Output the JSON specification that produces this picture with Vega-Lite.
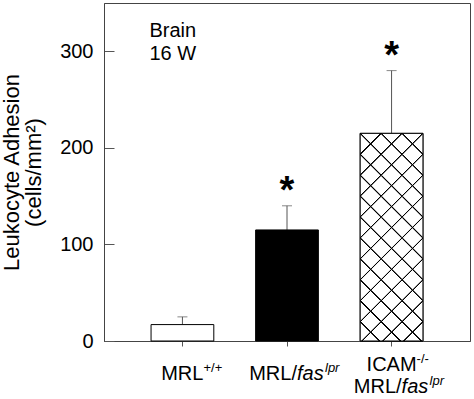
{
  "$schema": "https://vega.github.io/schema/vega-lite/v6.json",
  "width": 366,
  "height": 338,
  "autosize": {"type": "none"},
  "padding": {"left": 104, "right": 4, "top": 3, "bottom": 58},
  "background": "#ffffff",
  "config": {
    "font": "Liberation Sans",
    "view": {"stroke": "#444444", "strokeWidth": 1},
    "axis": {"grid": false, "domainColor": "#444444", "tickColor": "#555555", "labelColor": "#000000", "titleColor": "#000000"}
  },
  "data": {
    "values": [
      {"group": "MRL+/+", "mean": 17, "upper": 25, "sig": ""},
      {"group": "MRL/fas lpr", "mean": 115, "upper": 140, "sig": "*"},
      {"group": "ICAM-/- MRL/fas lpr", "mean": 215, "upper": 280, "sig": "*"}
    ]
  },
  "encoding": {
    "x": {
      "field": "group",
      "type": "nominal",
      "sort": null,
      "scale": {"domain": ["MRL+/+", "MRL/fas lpr", "ICAM-/- MRL/fas lpr"], "paddingInner": 0.4, "paddingOuter": 0.45},
      "axis": {"labels": false, "title": null, "tickSize": 5, "domainColor": "#444444"}
    }
  },
  "layer": [
    {
      "mark": {"type": "rule", "color": "#555555", "strokeWidth": 1},
      "encoding": {
        "y": {
          "field": "mean",
          "type": "quantitative",
          "scale": {"domain": [0, 350], "nice": false, "zero": true},
          "axis": {
            "values": [0, 100, 200, 300],
            "tickSize": -10,
            "labelPadding": 21,
            "labelFontSize": 20,
            "labelFont": "Liberation Sans",
            "title": ["Leukocyte Adhesion", "(cells/mm²)"],
            "titleFontSize": 22,
            "titleFontWeight": "normal",
            "titleFont": "Liberation Sans",
            "titleLineHeight": 22,
            "titlePadding": 14
          }
        },
        "y2": {"field": "upper"}
      }
    },
    {
      "mark": {"type": "tick", "size": 10, "thickness": 1, "color": "#555555"},
      "encoding": {"y": {"field": "upper", "type": "quantitative"}}
    },
    {
      "mark": {"type": "bar", "stroke": "#000000", "strokeWidth": 1},
      "encoding": {
        "y": {"field": "mean", "type": "quantitative"},
        "fill": {
          "field": "group",
          "type": "nominal",
          "scale": {"domain": ["MRL+/+", "MRL/fas lpr", "ICAM-/- MRL/fas lpr"], "range": ["#ffffff", "#000000", "#ffffff"]},
          "legend": null
        }
      }
    },
    {
      "transform": [{"filter": "datum.group === 'ICAM-/- MRL/fas lpr'"}],
      "mark": {
        "type": "bar",
        "fill": {
          "gradient": "linear", "x1": 0, "y1": 1, "x2": 0.3606, "y2": -0.1932,
          "stops": [
            {"offset": 0, "color": "#ffffff"},
            {"offset": 0.06721, "color": "#ffffff"}, {"offset": 0.06991, "color": "#000000"}, {"offset": 0.07351, "color": "#000000"}, {"offset": 0.07621, "color": "#ffffff"},
            {"offset": 0.14457, "color": "#ffffff"}, {"offset": 0.14727, "color": "#000000"}, {"offset": 0.15087, "color": "#000000"}, {"offset": 0.15357, "color": "#ffffff"},
            {"offset": 0.22194, "color": "#ffffff"}, {"offset": 0.22464, "color": "#000000"}, {"offset": 0.22824, "color": "#000000"}, {"offset": 0.23094, "color": "#ffffff"},
            {"offset": 0.29930, "color": "#ffffff"}, {"offset": 0.30200, "color": "#000000"}, {"offset": 0.30560, "color": "#000000"}, {"offset": 0.30830, "color": "#ffffff"},
            {"offset": 0.37666, "color": "#ffffff"}, {"offset": 0.37936, "color": "#000000"}, {"offset": 0.38296, "color": "#000000"}, {"offset": 0.38566, "color": "#ffffff"},
            {"offset": 0.45402, "color": "#ffffff"}, {"offset": 0.45672, "color": "#000000"}, {"offset": 0.46032, "color": "#000000"}, {"offset": 0.46302, "color": "#ffffff"},
            {"offset": 0.53138, "color": "#ffffff"}, {"offset": 0.53408, "color": "#000000"}, {"offset": 0.53768, "color": "#000000"}, {"offset": 0.54038, "color": "#ffffff"},
            {"offset": 0.60874, "color": "#ffffff"}, {"offset": 0.61144, "color": "#000000"}, {"offset": 0.61504, "color": "#000000"}, {"offset": 0.61774, "color": "#ffffff"},
            {"offset": 0.68611, "color": "#ffffff"}, {"offset": 0.68881, "color": "#000000"}, {"offset": 0.69241, "color": "#000000"}, {"offset": 0.69511, "color": "#ffffff"},
            {"offset": 0.76347, "color": "#ffffff"}, {"offset": 0.76617, "color": "#000000"}, {"offset": 0.76977, "color": "#000000"}, {"offset": 0.77247, "color": "#ffffff"},
            {"offset": 0.84083, "color": "#ffffff"}, {"offset": 0.84353, "color": "#000000"}, {"offset": 0.84713, "color": "#000000"}, {"offset": 0.84983, "color": "#ffffff"},
            {"offset": 0.91819, "color": "#ffffff"}, {"offset": 0.92089, "color": "#000000"}, {"offset": 0.92449, "color": "#000000"}, {"offset": 0.92719, "color": "#ffffff"},
            {"offset": 1, "color": "#ffffff"}
          ]
        }
      },
      "encoding": {"y": {"field": "mean", "type": "quantitative"}}
    },
    {
      "transform": [{"filter": "datum.group === 'ICAM-/- MRL/fas lpr'"}],
      "mark": {
        "type": "bar",
        "stroke": "#000000",
        "strokeWidth": 1,
        "fill": {
          "gradient": "linear", "x1": 0, "y1": 0, "x2": 0.3606, "y2": 1.1932,
          "stops": [
            {"offset": 0, "color": "rgba(255,255,255,0)"},
            {"offset": 0.07286, "color": "rgba(255,255,255,0)"}, {"offset": 0.07556, "color": "#000000"}, {"offset": 0.07916, "color": "#000000"}, {"offset": 0.08186, "color": "rgba(255,255,255,0)"},
            {"offset": 0.15022, "color": "rgba(255,255,255,0)"}, {"offset": 0.15292, "color": "#000000"}, {"offset": 0.15652, "color": "#000000"}, {"offset": 0.15922, "color": "rgba(255,255,255,0)"},
            {"offset": 0.22759, "color": "rgba(255,255,255,0)"}, {"offset": 0.23029, "color": "#000000"}, {"offset": 0.23389, "color": "#000000"}, {"offset": 0.23659, "color": "rgba(255,255,255,0)"},
            {"offset": 0.30495, "color": "rgba(255,255,255,0)"}, {"offset": 0.30765, "color": "#000000"}, {"offset": 0.31125, "color": "#000000"}, {"offset": 0.31395, "color": "rgba(255,255,255,0)"},
            {"offset": 0.38231, "color": "rgba(255,255,255,0)"}, {"offset": 0.38501, "color": "#000000"}, {"offset": 0.38861, "color": "#000000"}, {"offset": 0.39131, "color": "rgba(255,255,255,0)"},
            {"offset": 0.45967, "color": "rgba(255,255,255,0)"}, {"offset": 0.46237, "color": "#000000"}, {"offset": 0.46597, "color": "#000000"}, {"offset": 0.46867, "color": "rgba(255,255,255,0)"},
            {"offset": 0.53703, "color": "rgba(255,255,255,0)"}, {"offset": 0.53973, "color": "#000000"}, {"offset": 0.54333, "color": "#000000"}, {"offset": 0.54603, "color": "rgba(255,255,255,0)"},
            {"offset": 0.61439, "color": "rgba(255,255,255,0)"}, {"offset": 0.61709, "color": "#000000"}, {"offset": 0.62069, "color": "#000000"}, {"offset": 0.62339, "color": "rgba(255,255,255,0)"},
            {"offset": 0.69176, "color": "rgba(255,255,255,0)"}, {"offset": 0.69446, "color": "#000000"}, {"offset": 0.69806, "color": "#000000"}, {"offset": 0.70076, "color": "rgba(255,255,255,0)"},
            {"offset": 0.76912, "color": "rgba(255,255,255,0)"}, {"offset": 0.77182, "color": "#000000"}, {"offset": 0.77542, "color": "#000000"}, {"offset": 0.77812, "color": "rgba(255,255,255,0)"},
            {"offset": 0.84648, "color": "rgba(255,255,255,0)"}, {"offset": 0.84918, "color": "#000000"}, {"offset": 0.85278, "color": "#000000"}, {"offset": 0.85548, "color": "rgba(255,255,255,0)"},
            {"offset": 0.92384, "color": "rgba(255,255,255,0)"}, {"offset": 0.92654, "color": "#000000"}, {"offset": 0.93014, "color": "#000000"}, {"offset": 0.93284, "color": "rgba(255,255,255,0)"},
            {"offset": 1, "color": "rgba(255,255,255,0)"}
          ]
        }
      },
      "encoding": {"y": {"field": "mean", "type": "quantitative"}}
    },
    {
      "mark": {"type": "text", "fontSize": 38, "fontWeight": "bold", "color": "#000000", "baseline": "alphabetic", "align": "center", "dy": -3},
      "encoding": {
        "y": {"field": "upper", "type": "quantitative"},
        "text": {"field": "sig"}
      }
    },
    {
      "transform": [{"filter": "datum.group === 'MRL+/+'"}],
      "mark": {"type": "text", "text": ["Brain", "16 W"], "fontSize": 20, "fontWeight": "normal", "lineHeight": 23, "align": "left", "baseline": "alphabetic", "dx": -33, "color": "#000000"},
      "encoding": {
        "y": {"datum": 315, "type": "quantitative"}
      }
    },
    {
      "transform": [{"filter": "datum.group === 'MRL+/+'"}],
      "mark": {"type": "text", "text": "MRL", "fontSize": 20, "fontWeight": "normal", "align": "right", "baseline": "alphabetic", "dx": 21, "dy": 39, "color": "#000000"},
      "encoding": {"y": {"datum": 0, "type": "quantitative"}}
    },
    {
      "transform": [{"filter": "datum.group === 'MRL+/+'"}],
      "mark": {"type": "text", "text": "+/+", "fontSize": 13, "fontWeight": "normal", "align": "left", "baseline": "alphabetic", "dx": 21, "dy": 31, "color": "#000000"},
      "encoding": {"y": {"datum": 0, "type": "quantitative"}}
    },
    {
      "transform": [{"filter": "datum.group === 'MRL/fas lpr'"}],
      "mark": {"type": "text", "text": "MRL/", "fontSize": 20, "fontWeight": "normal", "align": "right", "baseline": "alphabetic", "dx": 10, "dy": 39, "color": "#000000"},
      "encoding": {"y": {"datum": 0, "type": "quantitative"}}
    },
    {
      "transform": [{"filter": "datum.group === 'MRL/fas lpr'"}],
      "mark": {"type": "text", "text": "fas", "fontSize": 20, "fontWeight": "normal", "fontStyle": "italic", "align": "left", "baseline": "alphabetic", "dx": 10, "dy": 39, "color": "#000000"},
      "encoding": {"y": {"datum": 0, "type": "quantitative"}}
    },
    {
      "transform": [{"filter": "datum.group === 'MRL/fas lpr'"}],
      "mark": {"type": "text", "text": "lpr", "fontSize": 13, "fontWeight": "normal", "fontStyle": "italic", "align": "left", "baseline": "alphabetic", "dx": 38, "dy": 31, "color": "#000000"},
      "encoding": {"y": {"datum": 0, "type": "quantitative"}}
    },
    {
      "transform": [{"filter": "datum.group === 'ICAM-/- MRL/fas lpr'"}],
      "mark": {"type": "text", "text": "ICAM", "fontSize": 20, "fontWeight": "normal", "align": "right", "baseline": "alphabetic", "dx": 25, "dy": 30, "color": "#000000"},
      "encoding": {"y": {"datum": 0, "type": "quantitative"}}
    },
    {
      "transform": [{"filter": "datum.group === 'ICAM-/- MRL/fas lpr'"}],
      "mark": {"type": "text", "text": "-/-", "fontSize": 13, "fontWeight": "normal", "align": "left", "baseline": "alphabetic", "dx": 25, "dy": 22, "color": "#000000"},
      "encoding": {"y": {"datum": 0, "type": "quantitative"}}
    },
    {
      "transform": [{"filter": "datum.group === 'ICAM-/- MRL/fas lpr'"}],
      "mark": {"type": "text", "text": "MRL/", "fontSize": 20, "fontWeight": "normal", "align": "right", "baseline": "alphabetic", "dx": 10, "dy": 52, "color": "#000000"},
      "encoding": {"y": {"datum": 0, "type": "quantitative"}}
    },
    {
      "transform": [{"filter": "datum.group === 'ICAM-/- MRL/fas lpr'"}],
      "mark": {"type": "text", "text": "fas", "fontSize": 20, "fontWeight": "normal", "fontStyle": "italic", "align": "left", "baseline": "alphabetic", "dx": 10, "dy": 52, "color": "#000000"},
      "encoding": {"y": {"datum": 0, "type": "quantitative"}}
    },
    {
      "transform": [{"filter": "datum.group === 'ICAM-/- MRL/fas lpr'"}],
      "mark": {"type": "text", "text": "lpr", "fontSize": 13, "fontWeight": "normal", "fontStyle": "italic", "align": "left", "baseline": "alphabetic", "dx": 38, "dy": 44, "color": "#000000"},
      "encoding": {"y": {"datum": 0, "type": "quantitative"}}
    }
  ]
}
